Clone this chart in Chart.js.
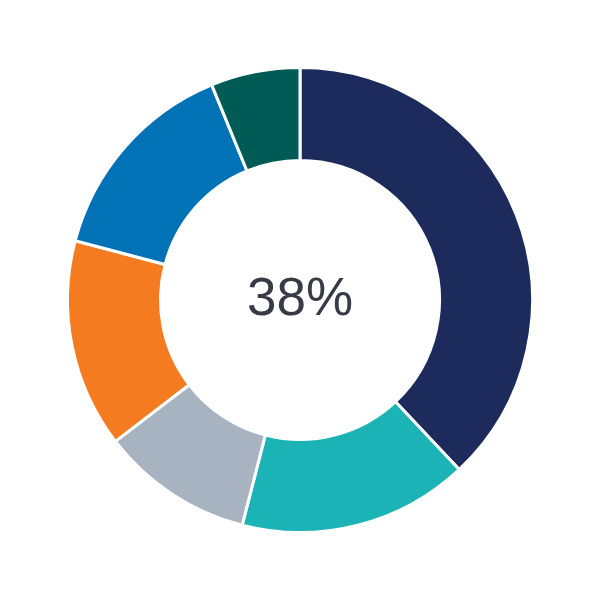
<!DOCTYPE html>
<html>
<head>
<meta charset="utf-8">
<script src="https://cdn.jsdelivr.net/npm/chart.js@4"></script>
<style>
  html, body { margin: 0; padding: 0; background: #fff; }
  #wrap { width: 600px; height: 600px; }
</style>
</head>
<body>
<div id="wrap"><canvas id="myChart"></canvas></div>
<script>
const labels = ['Segment 1', 'Segment 2', 'Segment 3', 'Segment 4', 'Segment 5', 'Segment 6'];
const values = [38, 16, 10.6, 14.5, 14.7, 6.2];
const colors = ['#1c2b5b', '#1bb3b5', '#a8b3c2', '#f47b20', '#0072b5', '#005a56'];
const centerLabel = '38%';

const centerText = {
  id: 'centerText',
  afterDraw(chart) {
    const { ctx, chartArea } = chart;
    const x = (chartArea.left + chartArea.right) / 2;
    const y = (chartArea.top + chartArea.bottom) / 2;
    ctx.save();
    ctx.font = '53px "Liberation Sans", Arial, sans-serif';
    ctx.fillStyle = '#363b45';
    ctx.textAlign = 'center';
    ctx.textBaseline = 'middle';
    ctx.fillText(centerLabel, x, y);
    ctx.restore();
  },
};

const ctx = document.getElementById('myChart');
new Chart(ctx, {
  type: 'doughnut',
  data: {
    labels: labels,
    datasets: [{
      data: values,
      backgroundColor: colors,
      borderColor: '#ffffff',
      borderWidth: 3,
    }],
  },
  options: {
    responsive: true,
    maintainAspectRatio: false,
    animation: false,
    cutout: '60%',
    layout: { padding: 66 },
    plugins: {
      legend: { display: false },
      tooltip: { enabled: false },
    },
  },
  plugins: [centerText],
});
</script>
</body>
</html>
